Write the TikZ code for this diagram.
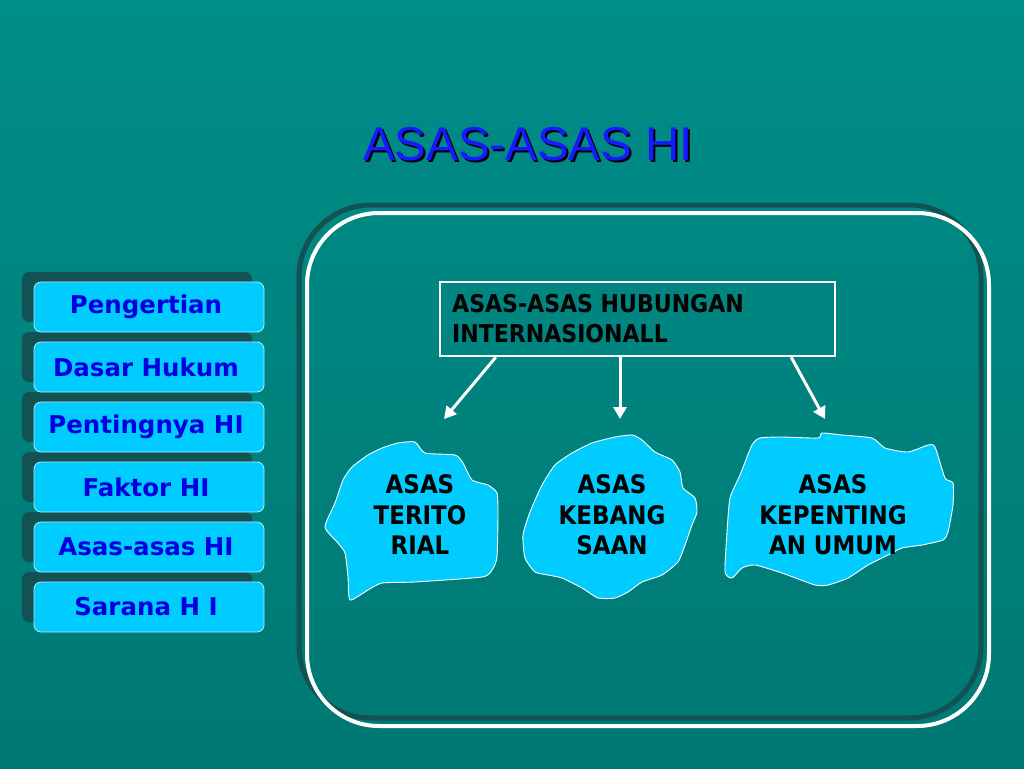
\documentclass[tikz,border=0pt]{standalone}
\usepackage{fontspec}
\setmainfont{Liberation Sans}
\newfontfamily\verd{DejaVu Sans}
\newfontfamily\tah{DejaVu Sans Condensed}
\usetikzlibrary{arrows.meta,calc,shadings}
\definecolor{bgtop}{RGB}{0,142,137}
\definecolor{bgbot}{RGB}{0,120,115}
\definecolor{cyanfill}{RGB}{0,204,255}
\definecolor{btntext}{RGB}{0,0,225}
\definecolor{titleblue}{RGB}{25,25,255}
\definecolor{shadowc}{RGB}{18,82,82}
\definecolor{btnline}{RGB}{170,235,255}
\tikzset{
  btn/.style={rectangle, rounded corners=7pt, minimum width=230pt, minimum height=50pt,
    fill=cyanfill, draw=btnline, line width=0.8pt, inner sep=0pt,
    font=\verd\bfseries\fontsize{24.5}{28}\selectfont, text=btntext},
  btnshadow/.style={rectangle, rounded corners=7pt, minimum width=230pt, minimum height=50pt,
    fill=shadowc, inner sep=0pt},
  blobshape/.style={fill=cyanfill, draw=white, line width=0.9pt},
  blobtext/.style={align=center, font=\tah\bfseries\fontsize{25.5}{30.5}\selectfont, text=black},
  arr/.style={draw=white, line width=3pt, -{Triangle[length=12pt,width=13pt]}}
}
\begin{document}
\begin{tikzpicture}[x=1pt,y=-1pt]
\useasboundingbox (0,0) rectangle (1024,768);
\shade[top color=bgtop, bottom color=bgbot] (0,0) rectangle (1024,768);
% title
\node[font=\fontsize{47.5}{50}\selectfont, text=black, anchor=base] at (530,162) {ASAS-ASAS HI};
\node[font=\fontsize{47.5}{50}\selectfont, text=titleblue, anchor=base] (title) at (528,160) {ASAS-ASAS HI};
% left menu
\foreach \y/\t [count=\i] in {307/Pengertian,367/Dasar Hukum,427/Pentingnya HI,487/Faktor HI,547/Asas-asas HI,607/Sarana H I}{
  \node[btnshadow] (s\i) at (137,\y-10) {};
}
\foreach \y/\t [count=\i] in {307/Pengertian,367/Dasar Hukum,427/Pentingnya HI,487/Faktor HI,547/Asas-asas HI,607/Sarana H I}{
  \node[btn] (b\i) at (149,\y) {\hspace*{-6pt}\t};
}
% big frame
\draw[shadowc, line width=5pt, rounded corners=72pt] (299,205) rectangle (981,718);
\draw[white, line width=4pt, rounded corners=72pt] (307,213) rectangle (989,726);
% central box
\node[draw=white, line width=2.5pt, minimum width=395pt, minimum height=74pt, inner sep=0pt] (main) at (637.5,319) {};
\node[anchor=base west, align=left, font=\tah\bfseries\fontsize{24.5}{30}\selectfont, text=black, inner sep=0pt] (maintext) at (452,342) {ASAS-ASAS HUBUNGAN\\INTERNASIONALL};
% blobs
\draw[blobshape] plot[smooth cycle, tension=0.35] coordinates {
(325,527) (335,503) (343,480) (352,467) (368,455) (382,448) (398,443) (415,442) (425,453) (455,455) (463,463) (472,480) (488,485) (497,493) (498,513) (497,557) (492,570) (482,577) (415,582) (382,583) (368,590) (350,600) (348,577) (345,553) (338,543)};
\draw[blobshape] plot[smooth cycle, tension=0.35] coordinates {
(525,558) (523,535) (530,512) (542,485) (555,465) (572,453) (592,443) (615,437) (632,435) (642,440) (655,452) (672,460) (680,472) (683,488) (695,498) (697,512) (692,525) (685,545) (678,562) (662,575) (642,582) (628,592) (615,598) (598,598) (582,588) (562,578) (548,575) (535,572)};
\draw[blobshape] plot[smooth cycle, tension=0.35] coordinates {
(725,572) (727,532) (730,498) (740,475) (752,445) (760,438) (782,437) (818,438) (822,433) (842,435) (872,438) (885,448) (908,452) (928,445) (935,447) (945,478) (953,483) (953,505) (948,532) (943,540) (922,545) (902,548) (888,555) (868,565) (848,578) (828,585) (815,585) (782,573) (755,565) (742,568) (732,578)};
\node[blobtext] (t1) at (420,515) {ASAS\\TERITO\\RIAL};
\node[blobtext] (t2) at (612,515) {ASAS\\KEBANG\\SAAN};
\node[blobtext] (t3) at (833,515) {ASAS\\KEPENTING\\AN UMUM};
% arrows
\coordinate (e1) at (444,419);
\coordinate (e2) at (620,419);
\coordinate (e3) at (825,419);
\draw[arr] ([xshift=57pt]main.south west) -- (e1);
\draw[arr] ([xshift=-17.5pt]main.south) -- (e2);
\draw[arr] ([xshift=-45pt]main.south east) -- (e3);
\end{tikzpicture}
\end{document}
